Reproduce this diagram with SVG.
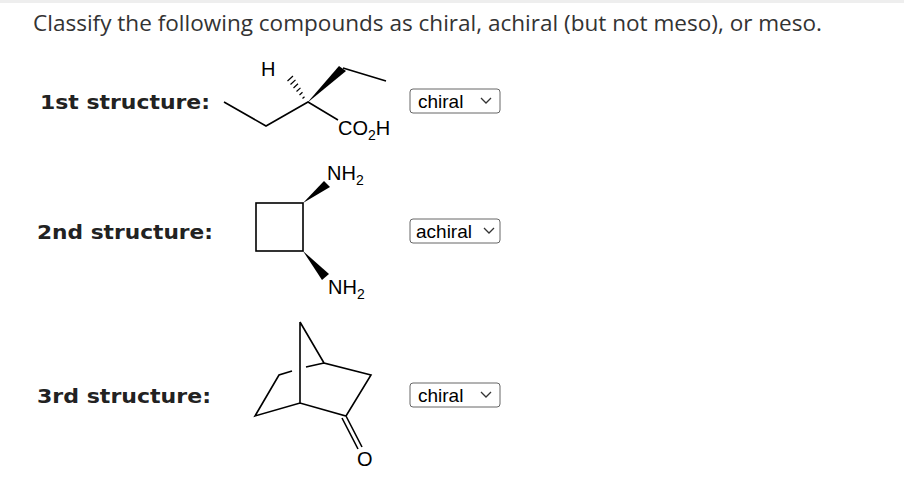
<svg xmlns="http://www.w3.org/2000/svg" width="904" height="498" viewBox="0 0 904 498">
<style>
.t{font-family:"Open Sans","Liberation Sans",sans-serif;font-size:22px;fill:#333}
.l{font-family:"DejaVu Sans","Liberation Sans",sans-serif;font-size:19px;font-weight:bold;fill:#222}
.b{fill:none;stroke:#000;stroke-width:1.6}
.a{font-family:"Liberation Sans",Arial,sans-serif;font-size:20px;fill:#000}
.s{font-size:14px}
.box{fill:#fff;stroke:#666;stroke-width:1;rx:3}
.dt{font-family:"Liberation Sans",Arial,sans-serif;font-size:19px;fill:#000}
.ch{fill:none;stroke:#333;stroke-width:1.3}
</style>
<rect width="904" height="498" fill="#fff"/>
<rect width="904" height="3" fill="#eee"/>
<text class="t" x="33" y="31" textLength="789" lengthAdjust="spacingAndGlyphs">Classify the following compounds as chiral, achiral (but not meso), or meso.</text>
<text class="l" x="40" y="109" textLength="170" lengthAdjust="spacingAndGlyphs">1st structure:</text>
<text class="l" x="37" y="239" textLength="176" lengthAdjust="spacingAndGlyphs">2nd structure:</text>
<text class="l" x="37" y="403" textLength="174" lengthAdjust="spacingAndGlyphs">3rd structure:</text>
<g id="s1">
<path class="b" d="M224 102L266 126L308 102L338 120M343 68L386 81"/>
<polygon points="307,103 339,66 346,71" fill="#000"/>
<path stroke="#000" stroke-width="1.2" d="M302.5 98.5l2 -1.8M299.5 95l3 -2.8M296.5 91.5l4 -3.6M293.5 88l4.5 -4.2M290.5 84.5l5 -4.6M287.5 81l5.5 -5"/>
<text class="a" x="261" y="76">H</text>
<text class="a" x="338" y="135">CO<tspan class="s" dy="5">2</tspan><tspan dy="-5">H</tspan></text>
</g>
<g id="s2">
<rect class="b" x="256" y="203" width="47" height="48"/>
<polygon points="303,203 324,181 330,187" fill="#000"/>
<polygon points="303,251 322,280 329,274" fill="#000"/>
<text class="a" x="327" y="180">NH<tspan class="s" dy="5">2</tspan></text>
<text class="a" x="328" y="294">NH<tspan class="s" dy="5">2</tspan></text>
</g>
<g id="s3">
<path class="b" d="M300 322V403M300 322L324 363L371 375L346 416L300 403L255 416L279 375L292 371M306 367L324 363M346 416L362 447M342 418L358 449"/>
<text class="a" x="357" y="466">O</text>
</g>
<g id="d1"><rect class="box" x="410" y="89" width="90" height="24"/><text class="dt" x="418" y="108">chiral</text><path class="ch" d="M481 98l5 5l5 -5"/></g>
<g id="d2"><rect class="box" x="410" y="219" width="90" height="24"/><text class="dt" x="416" y="238">achiral</text><path class="ch" d="M484 228l5 5l5 -5"/></g>
<g id="d3"><rect class="box" x="410" y="383" width="90" height="24"/><text class="dt" x="418" y="402">chiral</text><path class="ch" d="M481 392l5 5l5 -5"/></g>
</svg>
